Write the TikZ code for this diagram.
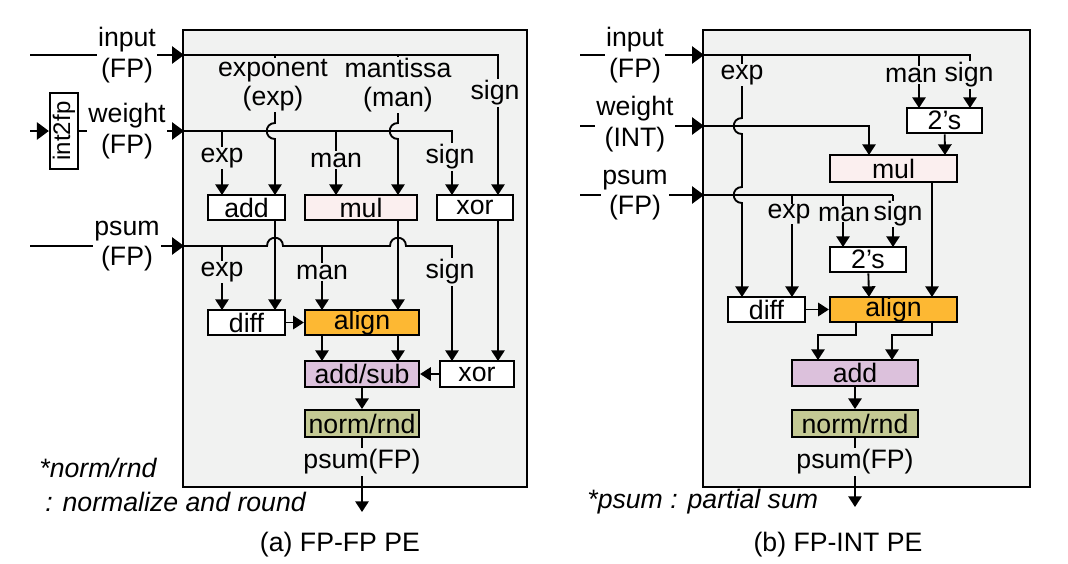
\documentclass[tikz,border=0pt]{standalone}
\usepackage{fontspec}
\setmainfont{Liberation Sans}
\usetikzlibrary{arrows.meta}
\definecolor{panel}{HTML}{F1F2F1}
\definecolor{mulc}{HTML}{FBEFEF}
\definecolor{alignc}{HTML}{FDB833}
\definecolor{addc}{HTML}{DCC1DC}
\definecolor{normc}{HTML}{C4C994}
\tikzset{
  blk/.style={draw, fill=white, line width=1.7pt, inner sep=0pt, minimum height=19pt, font=\fontsize{20}{22}\selectfont},
  lbl/.style={fill=panel, inner sep=1pt, font=\fontsize{20}{21.5}\selectfont, align=center},
  olbl/.style={fill=white, inner sep=1pt, font=\fontsize{20}{23}\selectfont, align=center},
  note/.style={anchor=west, font=\fontsize{20}{22}\selectfont\itshape},
  arr/.style={-{Triangle[length=8pt,width=10pt]}},
  bigarr/.style={-{Triangle[length=9pt,width=13pt]}},
}
\begin{document}
\begin{tikzpicture}[x=0.75pt, y=-0.75pt, line width=1.4pt]
\useasboundingbox (0,0) rectangle (1068,564);
% panels
\draw[fill=panel, line width=2.2pt] (183,30) rectangle (527,487);
\draw[fill=panel, line width=2.2pt] (703,30) rectangle (1030,487);

% (a) boxes
\node[blk, minimum width=57.75pt] (add) at (246.5,207.5) {add};
\node[blk, fill=mulc, minimum width=84pt] (mul) at (361,207.5) {mul};
\node[blk, minimum width=57pt] (xorA) at (475,207.5) {xor};
\node[blk, minimum width=57.75pt] (diff) at (246.5,322.5) {diff};
\node[blk, fill=alignc, minimum width=85.5pt] (align) at (362,322.5) {align};
\node[blk, fill=addc, minimum width=85.5pt] (addsub) at (362,374) {add/sub};
\node[blk, minimum width=55.5pt] (xorB) at (477,374) {xor};
\node[blk, fill=normc, minimum width=85.5pt, minimum height=20pt] (norm) at (362,423.5) {norm/rnd};
\node[blk, minimum width=57pt, minimum height=21pt, rotate=90, font=\fontsize{18}{20}\selectfont] (i2f) at (64,131) {int2fp};

% (a) input
\draw[bigarr] (30,55) -- (184,55);
\draw[arr] (183,55) -- (498,55) -- (498,195);
\draw (275,55) -- (275,62);
\draw (398,55) -- (398,62);
\draw[arr] (275,108) -- (275,123) .. controls (264,123) and (264,139) .. (275,139) -- (275,195);
\draw[arr] (398,108) -- (398,123) .. controls (387,123) and (387,139) .. (398,139) -- (398,195);
% (a) weight
\draw[bigarr] (30,131) -- (i2f.north);
\draw[bigarr] (i2f.south) -- (184,131);
\draw[arr] (183,131) -- (452,131) -- (452,195);
\draw[arr] (222,131) -- (222,195);
\draw[arr] (336,131) -- (336,195);
% (a) psum
\draw[bigarr] (30,246) -- (184,246);
\draw[arr] (183,246) -- (267,246) .. controls (267,235) and (283,235) .. (283,246) -- (390,246)
  .. controls (390,235) and (406,235) .. (406,246) -- (452,246) -- (452,361);
\draw[arr] (222,246) -- (222,310);
\draw[arr] (322,246) -- (322,310);
% (a) datapath
\draw[arr] (275,220) -- (275,310);
\draw[arr] (398,220) -- (398,310);
\draw[arr] (498,220) -- (498,361);
\draw[arr] (diff) -- (align);
\draw[arr] (322,335) -- (322,361);
\draw[arr] (398,335) -- (398,361);
\draw[arr] (xorB) -- (addsub);
\draw[arr] (addsub) -- (norm);
\draw[arr] (norm) -- (362,512);

% (a) labels
\node[olbl] at (127,55) {input\\(FP)};
\node[olbl] at (127,131) {weight\\(FP)};
\node[olbl] at (127,246) {psum\\(FP)};
\node[lbl] at (273,85) {exponent\\(exp)};
\node[lbl] at (398,85) {mantissa\\(man)};
\node[lbl] at (495,93) {sign};
\node[lbl] at (222,158) {exp};
\node[lbl] at (336,160) {man};
\node[lbl] at (450,157) {sign};
\node[lbl] at (222,272) {exp};
\node[lbl] at (322,272) {man};
\node[lbl] at (450,272) {sign};
\node[lbl] at (362,462) {psum(FP)};
\node[note] at (34,468) {*norm/rnd};
\node[note] at (40,502) {: normalize and round};
\node[font=\fontsize{20}{22}\selectfont] at (340,545) {(a) FP-FP PE};

% (b) boxes
\node[blk, minimum width=56.25pt] (twosA) at (944.5,120.5) {2's};
\node[blk, fill=mulc, minimum width=95.25pt, minimum height=20pt] (mulB) at (893.5,168.5) {mul};
\node[blk, minimum width=57pt] (twosB) at (868,259.5) {2's};
\node[blk, minimum width=57.75pt] (diffB) at (766.5,309.5) {diff};
\node[blk, fill=alignc, minimum width=95.25pt] (alignB) at (893.5,309.5) {align};
\node[blk, fill=addc, minimum width=94.5pt] (addB) at (855,373) {add};
\node[blk, fill=normc, minimum width=94.5pt, minimum height=20pt] (normB) at (855,423.5) {norm/rnd};

% (b) input
\draw[bigarr] (580,55) -- (704,55);
\draw[arr] (703,55) -- (970,55) -- (970,108);
\draw[arr] (919,55) -- (919,108);
\draw[arr] (742,55) -- (742,118) .. controls (731,118) and (731,134) .. (742,134) -- (742,187)
  .. controls (731,187) and (731,203) .. (742,203) -- (742,297);
% (b) weight
\draw[bigarr] (580,126) -- (704,126);
\draw[arr] (703,126) -- (869,126) -- (869,155);
\draw[arr] (twosA) -- (945,155);
\draw[arr] (932,182) -- (932,297);
% (b) psum
\draw[bigarr] (580,195) -- (704,195);
\draw (703,195) -- (893,195);
\draw[arr] (792,195) -- (792,297);
\draw[arr] (843,195) -- (843,247);
\draw[arr] (893,195) -- (893,247);
\draw[arr] (twosB) -- (869,297);
\draw[arr] (diffB) -- (alignB);
\draw[arr] (856,322) -- (856,335) -- (818,335) -- (818,360);
\draw[arr] (932,322) -- (932,335) -- (892,335) -- (892,360);
\draw[arr] (addB) -- (normB);
\draw[arr] (normB) -- (855,507);

% (b) labels
\node[olbl] at (635,55) {input\\(FP)};
\node[olbl] at (635,124) {weight\\(INT)};
\node[olbl] at (635,195) {psum\\(FP)};
\node[lbl] at (742,75) {exp};
\node[lbl] at (911,75) {man};
\node[lbl] at (969,75) {sign};
\node[lbl, inner sep=0.3pt] at (789,214) {exp};
\node[lbl, inner sep=0.3pt] at (844,214) {man};
\node[lbl, inner sep=0.3pt] at (898,214) {sign};
\node[lbl] at (855,462) {psum(FP)};
\node[note] at (582,502) {*psum : partial sum};
\node[font=\fontsize{20}{22}\selectfont] at (838,545) {(b) FP-INT PE};
\end{tikzpicture}
\end{document}
